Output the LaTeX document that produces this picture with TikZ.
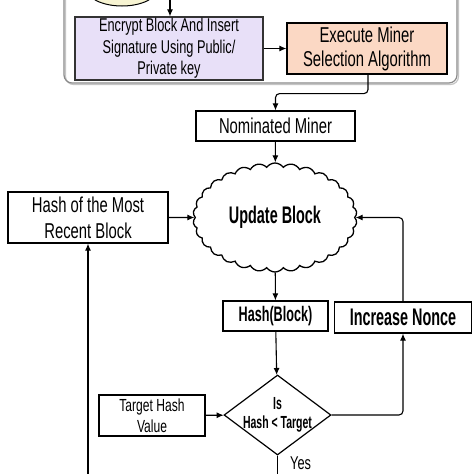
\documentclass[tikz,border=0pt]{standalone}
\usepackage{fontspec}
\setmainfont{Liberation Sans}
\newfontfamily\nf[FakeStretch=0.69]{Liberation Sans}
\newfontfamily\nfb[FakeStretch=0.6]{Liberation Sans}
\usetikzlibrary{shapes.geometric,shapes.symbols,arrows.meta}
\definecolor{lav}{HTML}{E8E0F8}
\definecolor{peach}{HTML}{FBD8C4}
\definecolor{paley}{HTML}{F7F4D2}
\definecolor{framegray}{HTML}{8A8A8A}
\begin{document}
\begin{tikzpicture}[x=1pt,y=-1pt,
  box/.style={draw, line width=1.2pt, inner sep=0pt, align=center},
  conn/.style={line width=1.1pt, -{Latex[length=7pt,width=6pt]}, rounded corners=4pt},
  plain/.style={line width=1.1pt},
]
\useasboundingbox (0,0) rectangle (474,474);
\clip (0,0) rectangle (474,474);
\fill[white] (0,0) rectangle (474,474);
% outer frame
\draw[framegray!50, line width=1.2pt, rounded corners=8pt] (65.5,-30) rectangle (458.5,84.5);
\draw[framegray, line width=1.2pt, rounded corners=8pt] (64,-30) rectangle (457,83);
% partial ellipse at top
\draw[black, fill=paley, line width=1pt] (122,-12) ellipse [x radius=36pt, y radius=18pt];
\coordinate (topin) at (170,-5);
\node[box, draw=black!80, fill=lav, minimum width=188pt, minimum height=63pt,
      font=\nf\fontsize{18.5}{21.5}\selectfont] (enc) at (169,48.5)
      {Encrypt Block And Insert\\Signature Using Public/\\Private key};
\node[box, fill=peach, minimum width=160pt, minimum height=51pt,
      font=\nf\fontsize{21.5}{24}\selectfont] (alg) at (367,48.5)
      {Execute Miner\\Selection Algorithm};
\node[box, minimum width=159pt, minimum height=30pt,
      font=\nf\fontsize{21.5}{24}\selectfont] (nom) at (275.5,126) {Nominated Miner};
\node[box, minimum width=160pt, minimum height=51pt,
      font=\nf\fontsize{21.5}{26}\selectfont] (hr) at (88,217.5)
      {Hash of the Most\\Recent Block};
\node[cloud, draw, line width=1.3pt, cloud puffs=30, cloud puff arc=110,
      cloud ignores aspect, minimum width=164pt, minimum height=109pt, inner sep=0pt,
      font=\nfb\bfseries\fontsize{24}{26}\selectfont] (ub) at (275,217.5) {Update Block};
\node[box, minimum width=105pt, minimum height=30pt,
      font=\nfb\bfseries\fontsize{21}{22}\selectfont] (hb) at (275.5,316) {Hash(Block)};
\node[box, minimum width=137pt, minimum height=31pt,
      font=\nfb\bfseries\fontsize{24}{24}\selectfont] (inc) at (403,317.5) {Increase Nonce};
\node[draw, diamond, line width=1.2pt, minimum width=107pt, minimum height=80pt,
      inner sep=0pt] (dia) at (277.5,415) {};
\node[align=center, inner sep=0pt, font=\nfb\bfseries\fontsize{17.5}{19}\selectfont]
      (diat) at (277.5,415) {Is\\Hash < Target};
\node[box, minimum width=106pt, minimum height=41pt,
      font=\nf\fontsize{17.5}{21}\selectfont] (th) at (152,415.5) {Target Hash\\Value};
\node[anchor=base west, inner sep=0pt, font=\nf\fontsize{18.5}{20}\selectfont] (yes) at (290,469) {Yes};
\coordinate (bl) at (88,490);
\coordinate (br) at (277.5,490);
% connectors
\draw[conn] (topin) -- (topin |- enc.north);
\draw[conn] (enc) -- (alg);
\draw[conn] ([xshift=1pt]alg.south) -- ++(0,19) -| (nom.north);
\draw[conn] (nom) -- (ub);
\draw[conn] (hr) -- (ub);
\draw[conn] (ub) -- (hb);
\draw[conn] (hb) -- (dia);
\draw[conn] (th) -- (dia);
\draw[conn] (dia.east) -| (inc.south);
\draw[conn] (inc.north) |- (ub.east);
\draw[conn] (bl) -- (hr.south);
\draw[plain] (dia.south) -- (br);
\end{tikzpicture}
\end{document}
